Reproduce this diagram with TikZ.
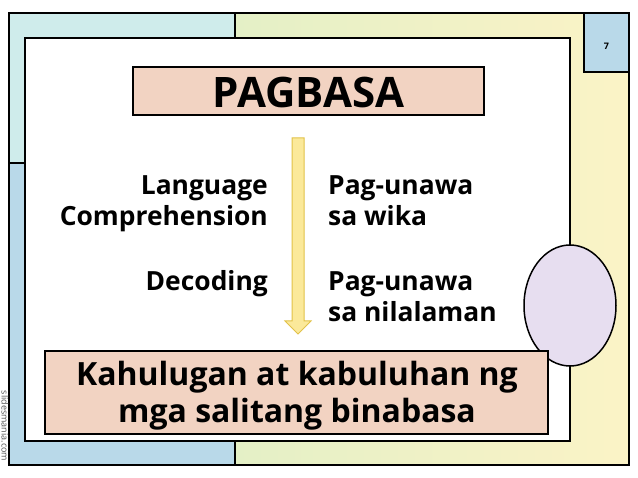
\documentclass[tikz,border=0pt]{standalone}
\usepackage{fontspec}
\setmainfont{Open Sans}
\begin{document}
\definecolor{tlcyan}{HTML}{CFECEB}
\definecolor{blblue}{HTML}{B9D9E9}
\definecolor{rgreen}{HTML}{E4F0C6}
\definecolor{ryellow}{HTML}{FBF3C6}
\definecolor{peach}{HTML}{F2D3C2}
\definecolor{lav}{HTML}{E7DEF0}
\definecolor{arrfill}{HTML}{FBE99A}
\definecolor{arrline}{HTML}{E2C248}
\definecolor{wmgray}{HTML}{555555}
\begin{tikzpicture}[x=1pt,y=-1pt,
  frame/.style={draw=black,line width=1.5pt},
  box/.style={draw=black,line width=1.5pt,fill=peach,inner sep=0pt},
  lbl/.style={font=\bfseries\fontsize{26.4}{31}\selectfont,inner sep=0pt},
  num/.style={font=\bfseries\fontsize{9}{10}\selectfont,inner sep=0pt}]
\useasboundingbox (0,0) rectangle (638,478);
\fill[white] (0,0) rectangle (638,478);
% panels
\shade[left color=rgreen,right color=ryellow] (235,13) rectangle (629,465);
\fill[tlcyan] (9,13) rectangle (235,163);
\fill[blblue] (9,163) rectangle (235,465);
\draw[frame] (235,13) -- (235,38) (235,441) -- (235,465) (9,163) -- (25,163);
\draw[frame] (9,13) rectangle (629,465);
\node[frame,fill=blblue,minimum width=45pt,minimum height=59pt,inner sep=0pt] (pg) at (606.5,42.5) {};
\node[num] (pgnum) at (606.5,46) {7};
% inner white area
\draw[frame,fill=white] (25,38) rectangle (570,441);
% title
\node[box,minimum width=351pt,minimum height=48pt] (title) at (308.5,91) {};
\node[font=\bfseries\fontsize{42}{44}\selectfont,inner sep=0pt,anchor=base] (tt) at (308.5,108) {PAGBASA};
% arrow
\draw[arrline,fill=arrfill,line width=1pt,line join=miter]
  (292,138) -- (304,138) -- (304,321) -- (311,321) -- (298,334) -- (285,321) -- (292,321) -- cycle;
% left labels
\node[lbl,align=right,anchor=base east] (lc) at (268,226) {Language\\Comprehension};
\node[lbl,align=right,anchor=base east] (dec) at (268,291) {Decoding};
% right labels
\node[lbl,align=left,anchor=base west] (pw) at (328,226) {Pag-unawa\\sa wika};
\node[lbl,align=left,anchor=base west] (pn) at (328,322) {Pag-unawa\\sa nilalaman};
% ellipse
\draw[line width=1.5pt,fill=lav] (570,305.5) ellipse [x radius=46,y radius=60.5];
% bottom box
\node[box,minimum width=503pt,minimum height=83pt] (res) at (296.5,392.5) {};
\node[font=\bfseries\fontsize{32}{37}\selectfont,inner sep=0pt,align=center,anchor=base] (rt) at (297,423) {Kahulugan at kabuluhan ng\\mga salitang binabasa};
% watermark
\node[font=\fontsize{9}{10}\selectfont,text=wmgray,rotate=-90,inner sep=0pt] (wm) at (5,426) {slidesmania.com};
\end{tikzpicture}
\end{document}
